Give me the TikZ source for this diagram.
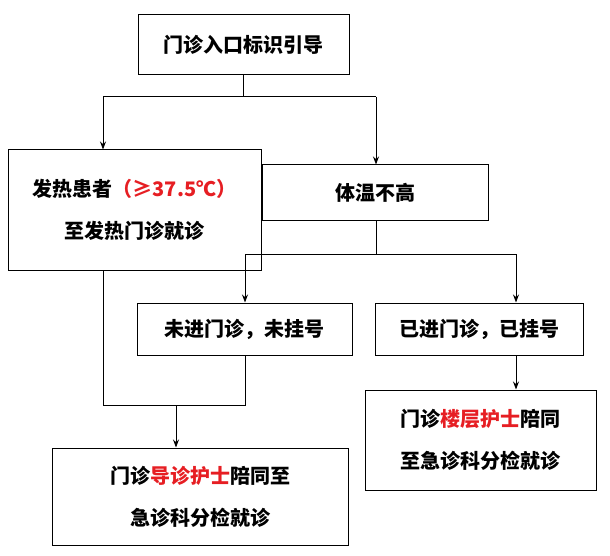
\documentclass[tikz,border=0pt]{standalone}
\usepackage{fontspec}
\setmainfont{Noto Sans CJK SC}
\usetikzlibrary{arrows.meta}
\definecolor{hl}{RGB}{230,30,35}
\begin{document}
\begin{tikzpicture}[x=1pt,y=-1pt,
  bx/.style={draw,line width=1pt,inner sep=0pt,font=\fontsize{20}{42}\selectfont\bfseries,align=center},
  ln/.style={line width=1pt},
  ar/.style={line width=1pt,-{Stealth[length=8pt,width=6pt]}}]
\useasboundingbox (0,0) rectangle (610,556);
\node[bx,minimum width=211pt,minimum height=60pt] (a) at (243.5,45) {门诊入口标识引导};
\node[bx,minimum width=253pt,minimum height=120pt] (b) at (134.5,210) {发热患者\textcolor{hl}{（≥37.5℃）}\\至发热门诊就诊};
\node[bx,minimum width=226pt,minimum height=55pt] (c) at (375,192.5) {体温不高};
\node[bx,minimum width=215pt,minimum height=52pt] (d) at (244.5,329) {未进门诊，未挂号};
\node[bx,minimum width=208pt,minimum height=52pt] (e) at (479,329) {已进门诊，已挂号};
\node[bx,minimum width=231pt,minimum height=100pt] (g) at (480.5,440) {门诊\textcolor{hl}{楼层护士}陪同\\至急诊科分检就诊};
\node[bx,minimum width=296pt,minimum height=97pt] (f) at (200,496.5) {门诊\textcolor{hl}{导诊护士}陪同至\\急诊科分检就诊};
\coordinate (j1) at (243.5,97);
\coordinate (j1l) at (103,97);
\coordinate (j1r) at (376,97);
\draw[ln] (a.south) -- (j1);
\draw[ln] (j1l) -- (j1r);
\draw[ar] (j1l) -- (j1l |- b.north);
\draw[ar] (j1r) -- (j1r |- c.north);
\coordinate (j2) at (376,254);
\coordinate (j2l) at (245,254);
\coordinate (j2r) at (516,254);
\draw[ln] (c.south -| j2) -- (j2);
\draw[ln] (j2l) -- (j2r);
\draw[ar] (j2l) -- (j2l |- d.north);
\draw[ar] (j2r) -- (j2r |- e.north);
\draw[ar] (j2r |- e.south) -- (j2r |- g.north);
\coordinate (j3l) at (103,405);
\coordinate (j3r) at (245,405);
\coordinate (j3) at (176,405);
\draw[ln] (j3l |- b.south) -- (j3l) -- (j3r) -- (j3r |- d.south);
\draw[ar] (j3) -- (j3 |- f.north);
\end{tikzpicture}
\end{document}
